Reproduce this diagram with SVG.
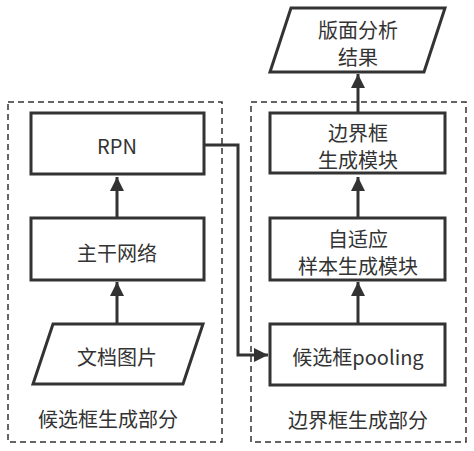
<svg xmlns="http://www.w3.org/2000/svg" width="474" height="451" viewBox="0 0 474 451">
<defs>
<style>
.box{fill:#fff;stroke:#333;stroke-width:3}
.grp{fill:none;stroke:#333;stroke-width:1.5;stroke-dasharray:6 4}
.t{font-family:"Noto Sans CJK SC","Liberation Sans",sans-serif;font-size:20px;fill:#333;text-anchor:middle;dominant-baseline:central}
.c{fill:none;stroke:#333;stroke-width:3}
</style>
<marker id="ah" viewBox="0 0 10 10" refX="10" refY="5" markerWidth="14" markerHeight="22" markerUnits="userSpaceOnUse" orient="auto">
<path d="M0,0 L10,5 L0,10 z" fill="#333"/>
</marker>
</defs>
<rect width="474" height="451" fill="#fff"/>
<g id="group-left">
<rect class="grp" x="8" y="102" width="214" height="340"/>
<text class="t" x="108" y="418">候选框生成部分</text>
</g>
<g id="group-right">
<rect class="grp" x="251" y="102" width="215" height="340"/>
<text class="t" x="358" y="419">边界框生成部分</text>
</g>
<g id="connectors">
<path class="c" d="M117,218 V177" marker-end="url(#ah)"/>
<path class="c" d="M117,324 V282" marker-end="url(#ah)"/>
<path class="c" d="M204,145 H238 V355 H268" marker-end="url(#ah)"/>
<path class="c" d="M358,324 V282" marker-end="url(#ah)"/>
<path class="c" d="M358,218 V177" marker-end="url(#ah)"/>
<path class="c" d="M358,113 V74" marker-end="url(#ah)"/>
</g>
<g id="rpn">
<rect class="box" x="31" y="113" width="173" height="61"/>
<text class="t" x="117" y="145">RPN</text>
</g>
<g id="backbone">
<rect class="box" x="31" y="218" width="173" height="62"/>
<text class="t" x="117" y="252">主干网络</text>
</g>
<g id="doc-image">
<polygon class="box" points="53,324 203,324 183,384 33,384"/>
<text class="t" x="117" y="356">文档图片</text>
</g>
<g id="bbox-module">
<rect class="box" x="270" y="113" width="175" height="60"/>
<text class="t" x="358" y="132">边界框</text>
<text class="t" x="358" y="159">生成模块</text>
</g>
<g id="adaptive-module">
<rect class="box" x="270" y="218" width="175" height="62"/>
<text class="t" x="358" y="238">自适应</text>
<text class="t" x="358" y="265">样本生成模块</text>
</g>
<g id="pooling">
<rect class="box" x="270" y="324" width="175" height="61"/>
<text class="t" x="358" y="356">候选框pooling</text>
</g>
<g id="result">
<polygon class="box" points="291,8 445,8 424,72 270,72"/>
<text class="t" x="358" y="29">版面分析</text>
<text class="t" x="358" y="56">结果</text>
</g>
</svg>
